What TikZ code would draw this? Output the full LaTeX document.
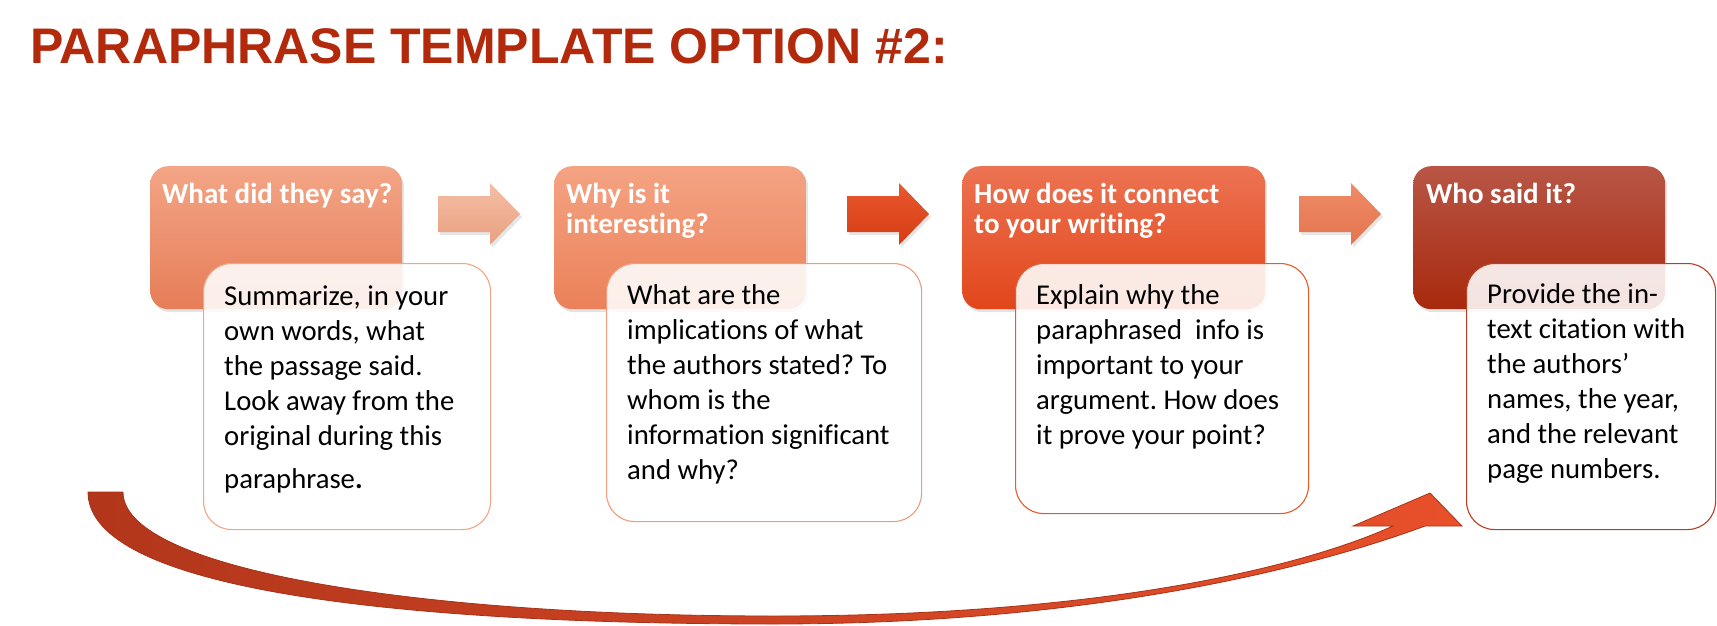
\documentclass[tikz,border=0pt]{standalone}
\usepackage{fontspec}
\setmainfont{Carlito}[Ligatures=NoCommon]
\newfontfamily\titlefont{Liberation Sans}
\usetikzlibrary{shadows,calc}
\frenchspacing
\definecolor{titlered}{HTML}{B3290C}
\definecolor{hAt}{HTML}{F3A586}\definecolor{hAb}{HTML}{E67D58}
\definecolor{hBt}{HTML}{F4A383}\definecolor{hBb}{HTML}{EB8159}
\definecolor{hCt}{HTML}{EC7352}\definecolor{hCb}{HTML}{E2461A}
\definecolor{hDt}{HTML}{B85646}\definecolor{hDb}{HTML}{A8290D}
\definecolor{aAt}{HTML}{F3BFA5}\definecolor{aAb}{HTML}{EA9F80}
\definecolor{aBt}{HTML}{E8582E}\definecolor{aBb}{HTML}{D63C14}
\definecolor{aCt}{HTML}{EE8C66}\definecolor{aCb}{HTML}{E47450}
\definecolor{dA}{HTML}{F4A585}\definecolor{dB}{HTML}{F29B7B}
\definecolor{dC}{HTML}{E85A2A}\definecolor{dD}{HTML}{BA3E22}
\definecolor{cvL}{HTML}{B2361B}\definecolor{cvR}{HTML}{E8502A}
\definecolor{cvE}{HTML}{A83217}
\newcommand{\topstrut}{\rule{0pt}{25pt}}
\begin{document}
\begin{tikzpicture}[x=1pt,y=-1pt,
  hbox/.style={anchor=north west, rounded corners=18pt, inner sep=0pt,
    minimum height=143pt,
    drop shadow={opacity=0.22, shadow xshift=2pt, shadow yshift=-3pt}},
  dbox/.style={anchor=north west, rounded corners=28pt, inner sep=0pt,
    fill=white, fill opacity=0.88, line width=1.1pt},
  blockarrow/.style={drop shadow={opacity=0.2, shadow xshift=2pt, shadow yshift=-3pt}},
  htext/.style={anchor=north west, inner sep=0pt, align=left, text=white,
    font=\fontsize{29}{30}\selectfont\bfseries},
  btext/.style={anchor=north west, inner sep=0pt, align=left, text=black,
    font=\fontsize{28.7}{35}\selectfont},
  ]
\useasboundingbox (0,0) rectangle (1717,626);

% title
\node[anchor=base west, inner sep=0pt, text=titlered,
  font=\titlefont\bfseries\fontsize{50}{56}\selectfont] (title) at (30,64)
  {PARAPHRASE TEMPLATE OPTION \#2:};

% header boxes
\node[hbox, top color=hAt, bottom color=hAb, minimum width=252pt] (h1) at (150,166) {};
\node[hbox, top color=hBt, bottom color=hBb, minimum width=252pt] (h2) at (554,166) {};
\node[hbox, top color=hCt, bottom color=hCb, minimum width=303pt] (h3) at (962,166) {};
\node[hbox, top color=hDt, bottom color=hDb, minimum width=252pt] (h4) at (1413,166) {};

% block arrows between headers
\coordinate (a1) at (438,214);
\coordinate (a2) at (847,214);
\coordinate (a3) at (1299,214);
\foreach \p/\ct/\cb in {a1/aAt/aAb, a2/aBt/aBb, a3/aCt/aCb}{
  \path[blockarrow, top color=\ct, bottom color=\cb]
    ($(\p)+(0,-18)$) -- ++(52,0) -- ++(0,-13) -- ++(30,31) -- ++(-30,31)
    -- ++(0,-13) -- ++(-52,0) -- cycle;
}

% detail boxes
\node[dbox, draw=dA, minimum width=287pt, minimum height=266pt] (d1) at (203,263) {};
\node[dbox, draw=dB, minimum width=315pt, minimum height=258pt] (d2) at (606,263) {};
\node[dbox, draw=dC, minimum width=293pt, minimum height=250pt] (d3) at (1015,263) {};
\node[dbox, draw=dD, minimum width=249pt, minimum height=266pt] (d4) at (1466,263) {};

% curved arrow
\coordinate (cvstart) at (88,492);
\coordinate (cvtip) at (1430,493);
\path[left color=cvL, right color=cvR, draw=cvE, line width=0.8pt]
  (cvstart) -- (123,492)
  .. controls (123,570) and (420,616) .. (774,616)
  .. controls (1100,616) and (1300,568) .. (1393,526)
  -- (1353,526) -- (cvtip) -- (1462,526) -- (1425,526)
  .. controls (1320,565) and (1100,624) .. (774,624)
  .. controls (400,624) and (88,590) .. (cvstart) -- cycle;

% header texts
\node[htext] (h1t) at (162,178) {\topstrut What did they say?};
\node[htext] (h2t) at (566,178) {\topstrut Why is it\\interesting?};
\node[htext] (h3t) at (974,178) {\topstrut How does it connect\\to your writing?};
\node[htext] (h4t) at (1426,178) {\topstrut Who said it?};

% body texts
\node[btext] (d1t) at (224,280) {\topstrut Summarize, in your\\own words, what\\the passage said.\\Look away from the\\original during this\\[8pt]paraphrase{\bfseries.}};
\node[btext] (d2t) at (627,279) {\topstrut What are the\\implications of what\\the authors stated? To\\whom is the\\information significant\\and why?};
\node[btext] (d3t) at (1036,279) {\topstrut Explain why the\\paraphrased~ info is\\important to your\\argument. How does\\it prove your point?};
\node[btext] (d4t) at (1487,278) {\topstrut Provide the in-\\text citation with\\the authors’\\names, the year,\\and the relevant\\page numbers.};
\end{tikzpicture}
\end{document}
